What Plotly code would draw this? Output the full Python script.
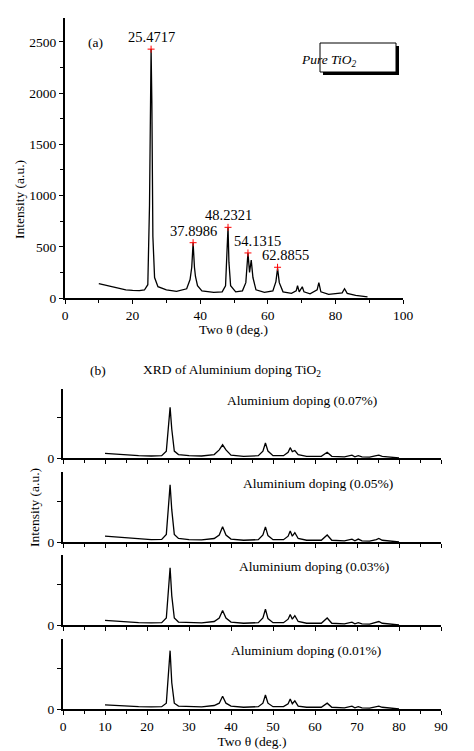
import plotly.graph_objects as go

# Pure TiO2 pattern (a)
x_pure = [10, 12, 14, 16, 18, 20, 22, 23.5, 24.5, 25.0, 25.3, 25.47, 25.7, 26, 26.5, 27.5, 30, 33, 36, 37, 37.5, 37.9,
          38.3, 38.6, 39.2, 40.5, 44, 46.5, 47.5, 48.0, 48.23, 48.5, 49, 50.5, 52.5, 53.5, 54.13, 54.6, 55.1, 55.6,
          56.5, 59, 61.5, 62.4, 62.89, 63.4, 64.5, 67, 68.4, 68.8, 69.3, 70.2, 70.7, 72.5, 74.6, 75.1, 75.7, 78, 82,
          82.7, 83.5, 86, 88, 89.5]
y_pure = [140, 125, 105, 88, 80, 74, 72, 78, 130, 900, 2300, 2430, 1900, 600, 200, 110, 80, 65, 90, 180, 300, 540,
          300, 210, 120, 70, 55, 60, 120, 450, 690, 350, 120, 60, 70, 150, 440, 250, 370, 200,
          80, 55, 70, 160, 290, 150, 60, 45, 70, 120, 60, 110, 60, 40, 80, 150, 60, 35, 50,
          90, 45, 25, 15, 10]
peak_x = [25.4717, 37.8986, 48.2321, 54.1315, 62.8855]
peak_y = [2430, 540, 690, 440, 300]
peak_labels = ["25.4717", "37.8986", "48.2321", "54.1315", "62.8855"]

# Al-doped patterns (b), arbitrary units
x_dop = [10, 12, 15, 18, 21, 23.5, 24.6, 25.1, 25.5, 25.9, 26.5, 27.5, 30, 33, 36, 37.2, 38.0, 38.8, 40, 43, 46.5,
         47.6, 48.2, 48.8, 50, 52.5, 53.6, 54.1, 54.6, 55.2, 56, 58, 61.5, 62.9, 64, 67, 68.8, 69.5, 70.3, 71.2, 73,
         74.6, 75.2, 76, 78, 80]
y_007 = [0.08, 0.07, 0.05, 0.04, 0.035, 0.04, 0.12, 0.55, 0.88, 0.5, 0.12, 0.06, 0.04, 0.035, 0.06, 0.14, 0.23,
         0.14, 0.05, 0.03, 0.04, 0.12, 0.26, 0.12, 0.04, 0.04, 0.1, 0.18, 0.11, 0.13, 0.06, 0.03, 0.03, 0.1, 0.03,
         0.02, 0.05, 0.02, 0.04, 0.02, 0.015, 0.04, 0.05, 0.03, 0.01, 0.0]
y_005 = [0.1, 0.09, 0.07, 0.05, 0.04, 0.045, 0.13, 0.6, 0.98, 0.55, 0.13, 0.06, 0.04, 0.035, 0.06, 0.12, 0.26,
         0.12, 0.05, 0.03, 0.04, 0.12, 0.26, 0.11, 0.04, 0.04, 0.1, 0.19, 0.1, 0.16, 0.06, 0.03, 0.03, 0.12, 0.03,
         0.02, 0.05, 0.02, 0.05, 0.02, 0.015, 0.04, 0.06, 0.03, 0.01, 0.0]
y_003 = [0.08, 0.07, 0.05, 0.04, 0.035, 0.04, 0.12, 0.6, 0.98, 0.5, 0.12, 0.05, 0.04, 0.035, 0.06, 0.12, 0.25,
         0.12, 0.05, 0.03, 0.04, 0.12, 0.27, 0.11, 0.04, 0.04, 0.1, 0.18, 0.1, 0.16, 0.06, 0.03, 0.03, 0.12, 0.03,
         0.02, 0.05, 0.02, 0.04, 0.02, 0.015, 0.04, 0.06, 0.03, 0.01, 0.0]
y_001 = [0.07, 0.06, 0.05, 0.04, 0.035, 0.04, 0.1, 0.55, 1.0, 0.45, 0.1, 0.05, 0.04, 0.035, 0.06, 0.1, 0.22,
         0.1, 0.05, 0.03, 0.04, 0.1, 0.24, 0.1, 0.04, 0.04, 0.09, 0.17, 0.09, 0.14, 0.05, 0.03, 0.03, 0.1, 0.03,
         0.02, 0.05, 0.02, 0.04, 0.02, 0.015, 0.04, 0.05, 0.03, 0.01, 0.0]
doped_series = [y_007, y_005, y_003, y_001]
doped_labels = ["Aluminium doping (0.07%)", "Aluminium doping (0.05%)",
                "Aluminium doping (0.03%)", "Aluminium doping (0.01%)"]
label_x = [57, 60.7, 59.8, 57.9]

W, H = 474, 751
OFF = 8  # page body margin
FONT = "Liberation Serif"
BLACK = dict(family=FONT, size=13.5, color='black')
def fy(px):
    return 1 - (px - OFF) / H
def fx(px):
    return (px - OFF) / W

fig = go.Figure()
fig.add_trace(go.Scatter(x=x_pure, y=y_pure, mode='lines', line=dict(color='black', width=1.3),
                         xaxis='x', yaxis='y', showlegend=False))
fig.add_trace(go.Scatter(x=peak_x, y=peak_y, mode='markers', marker=dict(symbol='cross-thin', size=5,
                         line=dict(color='red', width=1)), xaxis='x', yaxis='y', showlegend=False))

panels = [(458, 389), (542, 472), (625, 555), (709, 639)]
ax = dict(showline=True, linecolor='black', linewidth=2, showgrid=False, zeroline=False, automargin=False,
          ticks='outside', ticklen=4, tickcolor='black', tickfont=BLACK)
layout = dict(
    xaxis=dict(ax, domain=[fx(65), fx(403)], range=[0, 100], dtick=20, anchor='y',
               minor=dict(dtick=10, ticks='outside', ticklen=3, tickcolor='black')),
    yaxis=dict(ax, domain=[fy(298), fy(18)], range=[0, 2734], dtick=500, anchor='x',
               minor=dict(dtick=250, ticks='outside', ticklen=3, tickcolor='black')),
)
for i, (ys, (b, t)) in enumerate(zip(doped_series, panels)):
    n = i + 2
    fig.add_trace(go.Scatter(x=x_dop, y=ys, mode='lines', line=dict(color='black', width=1.3),
                             xaxis=f'x{n}', yaxis=f'y{n}', showlegend=False))
    layout[f'yaxis{n}'] = dict(ax, domain=[fy(b), fy(t)], range=[0, 1.2], tickvals=[0, 0.7],
                               ticktext=["0", ""], anchor=f'x{n}')
    layout[f'xaxis{n}'] = dict(ax, domain=[fx(63), fx(441)], range=[0, 90], dtick=10, anchor=f'y{n}',
                               showticklabels=(n == 5),
                               minor=dict(dtick=5, ticks='outside', ticklen=3, tickcolor='black'))
    fig.add_annotation(x=label_x[i], y=1.0, xref=f'x{n}', yref=f'y{n}', text=doped_labels[i], showarrow=False,
                       font=BLACK)
layout['xaxis5']['title'] = dict(text="Two θ (deg.)", font=BLACK, standoff=0)

for px, py, lab in zip(peak_x, peak_y, peak_labels):
    fig.add_annotation(x=px, y=py, xref='x', yref='y', text=lab, showarrow=False, yanchor='bottom', yshift=2,
                       xshift=10 if lab == "54.1315" else (8 if lab == "62.8855" else 0),
                       font=dict(family=FONT, size=14.5, color='black'))

fig.add_shape(type='rect', xref='paper', yref='paper', x0=fx(323), x1=fx(399), y0=fy(75), y1=fy(46),
              fillcolor='black', line=dict(width=0))
fig.add_shape(type='rect', xref='paper', yref='paper', x0=fx(320), x1=fx(396), y0=fy(72), y1=fy(43),
              fillcolor='white', line=dict(color='black', width=1))
fig.add_annotation(x=fx(358), y=fy(50), xref='paper', yref='paper', text="<i>Pure TiO<sub>2</sub></i>",
                   showarrow=False, font=BLACK)
paper_texts = [
    (86, 33, "(a)", 0), (233, 330, "Two θ (deg.)", 0), (10, 158, "Intensity (a.u.)", -90),
    (88, 371, "(b)", 0), (232, 371, "XRD of Aluminium doping TiO<sub>2</sub>", 0),
    (25, 549, "Intensity (a.u.)", -90),
]
for px, py, txt, ang in paper_texts:
    fig.add_annotation(x=fx(px), y=fy(py), xref='paper', yref='paper', text=txt, textangle=ang,
                       showarrow=False, font=BLACK)

fig.update_layout(layout)
fig.update_layout(width=W, height=H, autosize=False, margin=dict(l=0, r=0, t=0, b=0),
                  paper_bgcolor='white', plot_bgcolor='white')
fig.write_html("out.html")
